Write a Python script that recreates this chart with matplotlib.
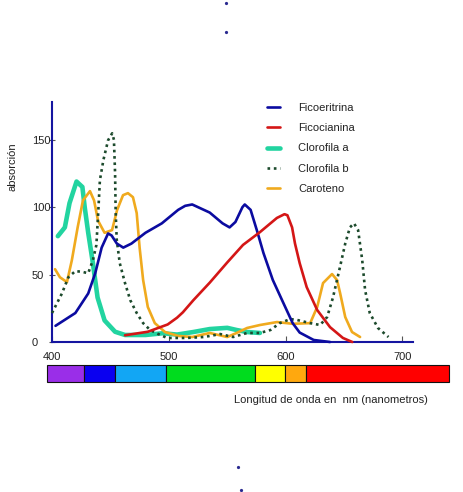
import matplotlib
matplotlib.use("Agg")
import matplotlib.pyplot as plt
from matplotlib.lines import Line2D

plt.rcParams['font.family'] = ['Liberation Sans', 'DejaVu Sans']

# Ficoeritrina
nm_ficoeritrina = [403, 420, 431, 437, 442.5, 448, 451, 455.5, 461, 468, 480, 494, 508, 514, 520,
                   535, 546, 552, 557, 563, 565, 570, 576, 581, 589, 598, 606, 612, 624, 638]
abs_ficoeritrina = [12, 21.5, 36, 51, 70, 80.5, 79, 73, 70, 73, 81, 88, 98, 101, 102,
                    96, 88, 85, 89, 100, 102, 98, 81, 66, 46, 29, 14, 7, 1.5, 0]

# Ficocianina
nm_ficocianina = [462.5, 482, 499, 507, 512, 521, 535, 550, 563.5, 578, 592.5, 599, 601.5,
                  605.5, 608, 612, 618, 627, 638, 649, 657]
abs_ficocianina = [5, 7.6, 13, 18, 22, 31, 44, 59, 72, 81.5, 92, 94.8, 94,
                   85, 73, 58.5, 40.7, 23.7, 11, 3, 0]

# Clorofila a
nm_clorofila_a = [405, 411, 415, 421, 426, 428, 431, 435, 439, 445, 454, 462.5, 480, 495,
                  507, 521, 535, 550, 558, 567, 578]
abs_clorofila_a = [78.5, 85, 103, 119, 115, 100, 81, 58.5, 33, 16, 7.6, 5.2, 5.2, 6.5,
                   5.5, 7.4, 9.6, 10.5, 8.9, 7.4, 6.7]

# Clorofila b
nm_clorofila_b = [400, 408.5, 414, 420, 426, 431, 435, 438, 439.5, 441, 444, 448, 451.5, 453,
                  454, 454.5, 455.4, 458, 462.5, 467, 472.5, 478, 484, 491, 498.5, 515, 530,
                  544, 555, 567, 578, 587, 595, 604, 610, 621, 629.5, 635.5, 640.5, 646.5,
                  651, 655, 658.5, 662, 665.5, 668, 672, 679, 688]
abs_clorofila_b = [21.5, 36, 48, 52.6, 52, 51, 60.7, 72, 95, 120, 135, 149.6, 154.8, 150,
                   125, 96, 76, 58.5, 43.7, 31, 21.5, 14, 8.9, 5.9, 3, 3, 3.7,
                   5.9, 3.7, 6.7, 6.7, 8.9, 14, 17, 16.3, 14, 12.6, 18.5, 33, 55.6,
                   73, 85, 88, 83, 61, 38.5, 21.5, 10.4, 3.7]

# Caroteno
nm_caroteno = [402.6, 406.8, 412.8, 417, 422, 426.5, 432.5, 436, 439.4, 445, 451.4, 455.7,
               460.8, 465, 469.3, 472.5, 475, 478, 482, 488, 496.7, 508, 520, 535, 550, 558,
               567, 578, 592.6, 606, 621, 627, 632, 639.7, 644, 646.6, 651, 656.8, 663.7]
abs_caroteno = [54, 48, 44.4, 60.7, 85.2, 105, 111.9, 105, 90, 81, 83, 97.8,
                108.9, 110.4, 107.4, 95.6, 70, 46, 26, 14, 7.4, 4.5, 3.7, 6.7, 3.7, 6.7,
                10.4, 12.6, 14.8, 13.5, 14, 26, 43.7, 50.4, 45.9, 36.3, 18.5, 7.4, 3.7]

# espectro visible
spectrum_edges = [396, 428, 454, 498, 574, 600, 618, 740]
spectrum_colors = ['#9a2ee8', '#0a00f0', '#12a6f4', '#00dc1e', '#ffff00', '#ffa80e', '#ff0000']

x_ticks = [400, 500, 600, 700]
y_ticks = [0, 50, 100, 150]

fig = plt.figure(figsize=(4.63, 4.92), dpi=100)
W, H = 463, 492

ax = fig.add_axes([52 / W, 1 - 342 / H, 361 / W, 240 / H])
ax.set_xlim(400, 709)
ax.set_ylim(0, 178)

ax.plot(nm_clorofila_a, abs_clorofila_a, color='#22d4a0', lw=3.3, label='Clorofila a',
        solid_capstyle='round', solid_joinstyle='round', clip_on=False, zorder=2)
ax.plot(nm_caroteno, abs_caroteno, color='#f0aa1e', lw=1.9, label='Caroteno',
        solid_capstyle='round', solid_joinstyle='round', clip_on=False, zorder=3)
ax.plot(nm_clorofila_b, abs_clorofila_b, color='#1c4a2c', lw=1.9, ls=(0, (1, 1.4)),
        label='Clorofila b', clip_on=False, zorder=3)
ax.plot(nm_ficoeritrina, abs_ficoeritrina, color='#0b0ba0', lw=1.9, label='Ficoeritrina',
        solid_capstyle='round', solid_joinstyle='round', clip_on=False, zorder=4)
ax.plot(nm_ficocianina, abs_ficocianina, color='#d41616', lw=1.9, label='Ficocianina',
        solid_capstyle='round', solid_joinstyle='round', clip_on=False, zorder=4)

for side in ['top', 'right']:
    ax.spines[side].set_visible(False)
for side in ['left', 'bottom']:
    ax.spines[side].set_color('#1515a0')
    ax.spines[side].set_linewidth(1.5)

ax.set_xticks(x_ticks)
ax.set_yticks(y_ticks)
ax.tick_params(axis='x', direction='in', length=4, width=0.8, color='#555555',
               labelsize=8, pad=7, labelcolor='#222222')
ax.tick_params(axis='y', direction='inout', length=5, width=0.8, color='#555555',
               labelsize=8, pad=12, labelcolor='#222222')
for lbl in ax.get_yticklabels():
    lbl.set_horizontalalignment('left')

handles, labels = ax.get_legend_handles_labels()
order = ['Ficoeritrina', 'Ficocianina', 'Clorofila a', 'Clorofila b', 'Caroteno']
hl = {l: h for h, l in zip(handles, labels)}
fig.legend([hl[o] for o in order], order, loc='upper left',
           bbox_to_anchor=(267 / W, 1 - 103 / H), frameon=False, fontsize=8,
           borderpad=0, borderaxespad=0, handlelength=1.2, handletextpad=1.6,
           labelspacing=0.92, labelcolor='#222222')

fig.text(13 / W, 1 - 167 / H, 'absorción', rotation=90, ha='center', va='center',
         fontsize=8, color='#222222')

# barra del espectro
bar = fig.add_axes([47 / W, 1 - 382 / H, 402 / W, 17 / H])
bar.set_xlim(spectrum_edges[0], spectrum_edges[-1])
bar.set_ylim(-0.5, 0.5)
lefts = spectrum_edges[:-1]
widths = [b - a for a, b in zip(spectrum_edges[:-1], spectrum_edges[1:])]
bar.barh(0, widths, left=lefts, height=1, color=spectrum_colors, edgecolor='#111111',
         linewidth=0.8, clip_on=False)
bar.axis('off')

fig.text(331 / W, 1 - 400 / H, 'Longitud de onda en  nm (nanometros)', ha='center',
         va='center', fontsize=8, color='#222222')

# puntitos sueltos de la imagen original
for px, py in [(226, 3), (226, 32), (238, 467), (241, 490)]:
    fig.add_artist(Line2D([px / W], [1 - py / H], marker='o', markersize=1.3,
                          color='#2a2a90', transform=fig.transFigure))

fig.savefig('out.png', dpi=100)
